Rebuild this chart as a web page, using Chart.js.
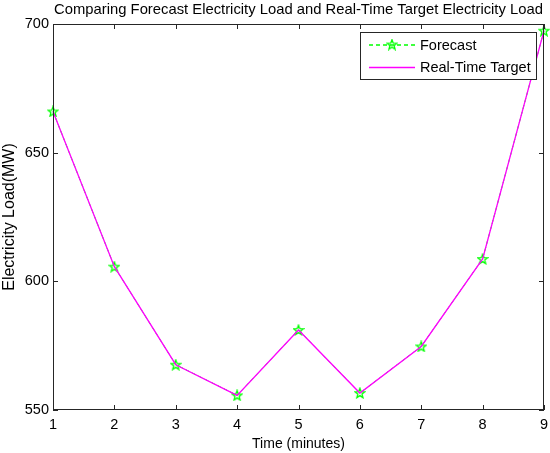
<!DOCTYPE html>
<html>
<head>
<meta charset="utf-8">
<script src="https://cdn.jsdelivr.net/npm/chart.js@4"></script>
<style>
  html, body { margin: 0; padding: 0; background: #ffffff; }
  #wrap { width: 550px; height: 453px; }
</style>
</head>
<body>
<div id="wrap"><canvas id="grafico" width="550" height="453"></canvas></div>
<script>
const tempos = [1, 2, 3, 4, 5, 6, 7, 8, 9];
const previsao = [666.0, 605.7, 567.6, 555.7, 581.1, 556.6, 574.7, 608.7, 697.4];
const alvo = [666.0, 605.7, 567.6, 555.7, 581.1, 556.6, 574.7, 608.7, 697.4];
const ticksY = [550, 600, 650, 700];
const titulo = 'Comparing Forecast Electricity Load and Real-Time Target Electricity Load';

const fonte = 'Liberation Sans, Arial, sans-serif';
const verde = '#00ff00';
const magenta = '#ff00ff';

function fazerEstrela(cor) {
  const c = document.createElement('canvas');
  c.width = 12;
  c.height = 12;
  const g = c.getContext('2d');
  g.strokeStyle = cor;
  g.lineWidth = 1.3;
  g.beginPath();
  for (let i = 0; i < 10; i++) {
    const r = i % 2 ? 2.2 : 5.2;
    const a = -Math.PI / 2 + i * Math.PI / 5;
    const px = 6 + r * Math.cos(a), py = 6.4 + r * Math.sin(a);
    if (i) g.lineTo(px, py); else g.moveTo(px, py);
  }
  g.closePath();
  g.stroke();
  return c;
}
const estrela = fazerEstrela(verde);

// moldura com ticks para dentro, titulo e legenda estilo matlab
const moldura = {
  id: 'moldura',
  afterDraw(chart) {
    const { ctx, chartArea: a, scales } = chart;
    ctx.save();
    ctx.strokeStyle = '#262626';
    ctx.lineWidth = 1;
    ctx.strokeRect(a.left + 0.5, a.top + 0.5, a.right - a.left - 1, a.bottom - a.top - 1);
    ctx.beginPath();
    tempos.forEach(t => {
      const x = Math.round(scales.x.getPixelForValue(t)) + 0.5;
      ctx.moveTo(x, a.bottom); ctx.lineTo(x, a.bottom - 5);
      ctx.moveTo(x, a.top); ctx.lineTo(x, a.top + 5);
    });
    ticksY.forEach(v => {
      const y = Math.round(scales.y.getPixelForValue(v)) + 0.5;
      ctx.moveTo(a.left, y); ctx.lineTo(a.left + 5, y);
      ctx.moveTo(a.right, y); ctx.lineTo(a.right - 5, y);
    });
    ctx.stroke();

    // titulo
    ctx.fillStyle = '#000000';
    ctx.font = '14.8px ' + fonte;
    ctx.textAlign = 'center';
    ctx.textBaseline = 'alphabetic';
    ctx.fillText(titulo, (a.left + a.right) / 2, 13.5);

    // legenda
    const lx = 360.5, ly = 32.5, lw = 176, lh = 47;
    ctx.fillStyle = '#ffffff';
    ctx.fillRect(lx, ly, lw, lh);
    ctx.strokeStyle = '#262626';
    ctx.strokeRect(lx, ly, lw, lh);

    ctx.lineWidth = 1.5;
    ctx.strokeStyle = verde;
    ctx.setLineDash([4, 3]);
    ctx.beginPath();
    ctx.moveTo(369, 45); ctx.lineTo(415, 45);
    ctx.stroke();
    ctx.setLineDash([]);
    ctx.drawImage(estrela, 392 - 6, 45 - 6.5);

    ctx.strokeStyle = magenta;
    ctx.beginPath();
    ctx.moveTo(369, 67.5); ctx.lineTo(415, 67.5);
    ctx.stroke();

    ctx.fillStyle = '#000000';
    ctx.font = '14.5px ' + fonte;
    ctx.textBaseline = 'middle';
    ctx.textAlign = 'left';
    ctx.fillText('Forecast', 420, 46);
    ctx.fillText('Real-Time Target', 420, 68);
    ctx.restore();
  }
};

new Chart(document.getElementById('grafico'), {
  type: 'line',
  data: {
    datasets: [
      {
        label: 'Forecast',
        data: tempos.map((t, i) => ({ x: t, y: previsao[i] })),
        borderColor: verde,
        borderWidth: 1,
        borderDash: [4, 3],
        pointStyle: estrela,
        pointRadius: 5,
        pointHoverRadius: 5,
        tension: 0,
        clip: false,
        order: 2
      },
      {
        label: 'Real-Time Target',
        data: tempos.map((t, i) => ({ x: t, y: alvo[i] })),
        borderColor: magenta,
        borderWidth: 1.3,
        pointRadius: 0,
        tension: 0,
        clip: false,
        order: 1
      }
    ]
  },
  options: {
    responsive: false,
    animation: false,
    events: [],
    layout: { padding: { top: 24, right: 6, left: 0, bottom: 0 } },
    plugins: {
      legend: { display: false },
      tooltip: { enabled: false },
      title: { display: false }
    },
    scales: {
      x: {
        type: 'linear',
        min: 1,
        max: 9,
        grid: { display: false, drawTicks: false },
        border: { display: false },
        afterFit(s) { s.height = 43; s.paddingRight = 0; s.paddingLeft = 0; },
        ticks: {
          stepSize: 1,
          padding: 6,
          color: '#000000',
          font: { family: fonte, size: 14.5 }
        },
        title: {
          display: true,
          text: 'Time (minutes)',
          color: '#000000',
          font: { family: fonte, size: 14 },
          padding: { top: 0, bottom: 0 }
        }
      },
      y: {
        min: 550,
        max: 700,
        grid: { display: false, drawTicks: false },
        border: { display: false },
        afterFit(s) { s.width = 53; s.paddingTop = 0; s.paddingBottom = 0; },
        afterBuildTicks(s) { s.ticks = ticksY.map(v => ({ value: v })); },
        ticks: {
          padding: 4,
          color: '#000000',
          font: { family: fonte, size: 14.5 }
        },
        title: {
          display: true,
          text: 'Electricity Load(MW)',
          color: '#000000',
          font: { family: fonte, size: 16 },
          padding: { top: 0, bottom: 0 }
        }
      }
    }
  },
  plugins: [moldura]
});
</script>
</body>
</html>
